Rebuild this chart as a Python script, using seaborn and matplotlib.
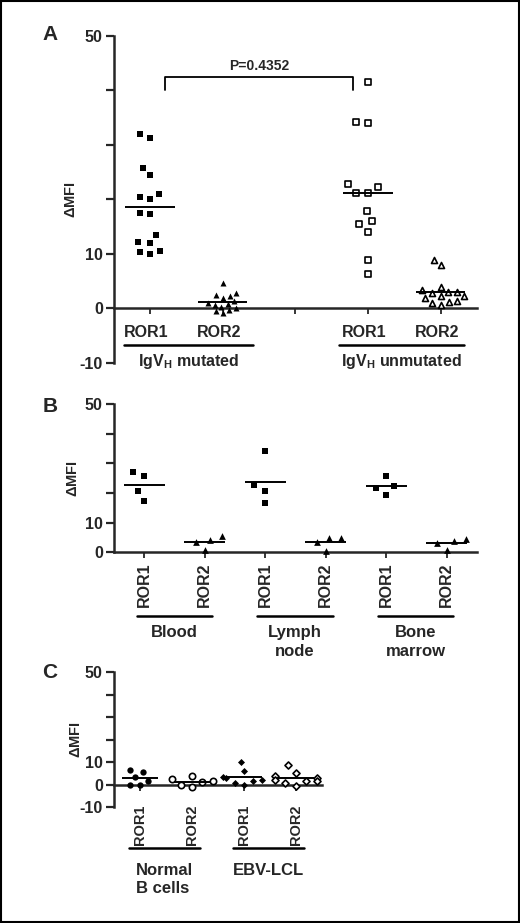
import numpy as np
import pandas as pd
import matplotlib
matplotlib.use("Agg")
import matplotlib.pyplot as plt
import matplotlib.transforms as mtrans
from matplotlib.markers import MarkerStyle
from matplotlib.patches import Rectangle
import seaborn as sns

# panel A: IgVH mutated / unmutated
a_labels = ["ROR1", "ROR2", "ROR1", "ROR2"]
a_mut_ror1 = [31.9, 31.2, 25.7, 24.4, 20.9, 20.5, 20.0, 17.5, 17.3, 13.5, 12.1, 12.0, 10.6, 10.3, 10.0]
a_mut_ror2 = [4.7, 2.9, 2.5, 2.3, 2.0, 1.3, 1.0, 0.9, 0.7, 0.3, 0.0, -0.3, -0.5, -0.9]
a_unm_ror1 = [41.5, 34.2, 34.0, 22.8, 22.2, 21.1, 21.1, 17.9, 16.0, 15.5, 14.0, 8.8, 6.4]
a_unm_ror2 = [8.9, 7.9, 3.9, 3.3, 3.1, 3.0, 2.8, 2.3, 2.2, 1.9, 1.4, 1.1, 1.0, 0.6]
a_groups = [r"IgV$_\mathregular{H}$ mutated", r"IgV$_\mathregular{H}$ unmutated"]
a_pvalue = "P=0.4352"

# panel B: tissue
b_labels = ["ROR1", "ROR2", "ROR1", "ROR2", "ROR1", "ROR2"]
b_blood_ror1 = [27.0, 25.6, 20.7, 17.2]
b_blood_ror2 = [5.6, 4.3, 3.6, 0.7]
b_lymph_ror1 = [34.2, 22.6, 20.7, 16.7]
b_lymph_ror2 = [4.9, 4.7, 3.4, 0.6]
b_bone_ror1 = [25.7, 22.4, 21.8, 19.3]
b_bone_ror2 = [4.5, 3.9, 3.1, 0.7]
b_groups = ["Blood", "Lymph\nnode", "Bone\nmarrow"]

# panel C: normal B cells / EBV-LCL
c_labels = ["ROR1", "ROR2", "ROR1", "ROR2"]
c_normal_ror1 = [6.7, 5.6, 3.4, 1.6, 0.0, -0.1]
c_normal_ror2 = [4.0, 2.5, 1.5, 1.2, -0.3, -0.9]
c_ebv_ror1 = [10.0, 6.2, 3.5, 3.0, 2.3, 1.5, 1.0, 0.0]
c_ebv_ror2 = [8.6, 5.2, 3.7, 3.0, 2.2, 1.5, 1.5, 0.7, -0.7]
c_groups = ["Normal\nB cells", "EBV-LCL"]

sns.set_theme(style="ticks")
plt.rcParams["font.family"] = ["Liberation Sans", "DejaVu Sans"]
plt.rcParams["font.weight"] = "bold"
plt.rcParams["axes.labelweight"] = "bold"
plt.rcParams["mathtext.fontset"] = "custom"
plt.rcParams["mathtext.rm"] = "Liberation Sans:bold"
plt.rcParams["mathtext.bf"] = "Liberation Sans:bold"

fig = plt.figure(figsize=(5.2, 9.23), dpi=100)
axA = fig.add_axes([0.219, 0.6067, 0.698, 0.3546])
axB = fig.add_axes([0.219, 0.4016, 0.698, 0.1607])
axC = fig.add_axes([0.219, 0.1254, 0.40, 0.1462])


def column(ax, pos, vals, marker, filled, size, shrink):
    #swarm laid out with a larger size, markers drawn smaller (looser spacing like prism)
    mk = MarkerStyle(marker, transform=mtrans.Affine2D().scale(shrink))
    x = np.full(len(vals), float(pos))
    if filled:
        sns.swarmplot(x=x, y=vals, native_scale=True, orient="x", ax=ax,
                      marker=mk, color="black", size=size, linewidth=0)
    else:
        sns.swarmplot(x=x, y=vals, native_scale=True, orient="x", ax=ax,
                      marker=mk, color="white", edgecolor="black",
                      linewidth=1.2, size=size)
    ax.hlines(np.mean(vals), pos - 0.34, pos + 0.34, color="black", lw=1.4, zorder=4)


def style_axis(ax, ylim, yticks, ylabels, positions, xlim, labelx):
    ax.set_ylim(*ylim)
    ax.set_xlim(*xlim)
    ax.spines["top"].set_visible(False)
    ax.spines["right"].set_visible(False)
    ax.spines["left"].set_linewidth(1.8)
    ax.spines["bottom"].set_linewidth(1.8)
    ax.spines["bottom"].set_position(("data", 0))
    ax.set_yticks(yticks)
    ax.set_yticklabels(ylabels)
    ax.set_xticks(positions)
    ax.set_xticklabels([""] * len(positions))
    ax.tick_params(axis="y", direction="out", length=6, width=1.6, labelsize=11.5, pad=2)
    ax.tick_params(axis="x", direction="out", length=4, width=1.3)
    ax.set_xlabel("")
    ax.set_ylabel(r"$\Delta$MFI", fontsize=10.5, fontweight="bold")
    ax.yaxis.set_label_coords(labelx, 0.5)
    for coll in ax.collections:
        coll.set_clip_on(False)


# ---- panel A
for pos, vals, m, f, sz, sh in [(1, a_mut_ror1, "s", True, 7.2, 0.62),
                                (2, a_mut_ror2, "^", True, 4.8, 0.9),
                                (4, a_unm_ror1, "s", False, 7.2, 0.62),
                                (5, a_unm_ror2, "^", False, 4.8, 0.9)]:
    column(axA, pos, vals, m, f, sz, sh)
style_axis(axA, (-10, 50), [-10, 0, 10, 20, 30, 40, 50],
           ["-10", "0", "10", "", "", "", "50"], [1, 2, 3, 4, 5], (0.5, 5.5), -0.10)
for pos, lab in zip([1, 2, 4, 5], a_labels):
    axA.text(pos - 0.05, -4.4, lab, ha="center", va="center", fontsize=11.5, fontweight="bold")
for (x0, x1), lab in zip([(0.64, 2.41), (3.6, 5.32)], a_groups):
    axA.plot([x0, x1], [-6.7, -6.7], color="black", lw=1.8, clip_on=False)
    axA.text((x0 + x1) / 2, -9.8, lab, ha="center", va="center", fontsize=11.5, fontweight="bold")
axA.plot([1.2, 1.2, 3.8, 3.8], [40.1, 42.5, 42.5, 40.1], color="black", lw=1.3)
axA.text(2.5, 44.4, a_pvalue, ha="center", va="center", fontsize=10, fontweight="bold")

# ---- panel B
b_sets = [b_blood_ror1, b_blood_ror2, b_lymph_ror1, b_lymph_ror2, b_bone_ror1, b_bone_ror2]
for i, vals in enumerate(b_sets):
    column(axB, i + 1, vals, "s" if i % 2 == 0 else "^", True, 8.5, 0.57)
style_axis(axB, (0, 50), [0, 10, 20, 30, 40, 50],
           ["0", "10", "", "", "", "50"], [1, 2, 3, 4, 5, 6], (0.5, 6.5), -0.094)
trB = mtrans.blended_transform_factory(axB.transData, axB.transAxes)
for pos, lab in zip(range(1, 7), b_labels):
    axB.text(pos, -0.07, lab, rotation=90, ha="center", va="top", fontsize=11.5,
             fontweight="bold", transform=trB)
for (x0, x1), lab in zip([(0.88, 2.12), (2.87, 4.12), (4.87, 6.1)], b_groups):
    axB.plot([x0, x1], [-0.43, -0.43], color="black", lw=1.8, clip_on=False, transform=trB)
    axB.text((x0 + x1) / 2, -0.49, lab, ha="center", va="top", fontsize=12,
             fontweight="bold", linespacing=1.3, transform=trB)

# ---- panel C
c_sets = [(c_normal_ror1, "o", True, 0.7), (c_normal_ror2, "o", False, 0.7),
          (c_ebv_ror1, "D", True, 0.55), (c_ebv_ror2, "D", False, 0.55)]
for i, (vals, m, f, sh) in enumerate(c_sets):
    column(axC, i + 1, vals, m, f, 6.5, sh)
style_axis(axC, (-10, 50), [-10, 0, 10, 20, 30, 40, 50],
           ["-10", "0", "10", "", "", "", "50"], [1, 2, 3, 4], (0.5, 4.5), -0.15)
trC = mtrans.blended_transform_factory(axC.transData, axC.transAxes)
for pos, lab in zip(range(1, 5), c_labels):
    axC.text(pos, 0.02, lab, rotation=90, ha="center", va="top", fontsize=10.5,
             fontweight="bold", transform=trC)
for (x0, x1), lab in zip([(0.8, 2.15), (2.8, 4.15)], c_groups):
    axC.plot([x0, x1], [-0.30, -0.30], color="black", lw=1.8, clip_on=False, transform=trC)
    axC.text((x0 + x1) / 2, -0.41, lab, ha="center", va="top", fontsize=12,
             fontweight="bold", linespacing=1.3, multialignment="left", transform=trC)

# panel letters
for lab, yy in [("A", 35), ("B", 407), ("C", 673)]:
    fig.text(50 / 520, 1 - yy / 923, lab, fontsize=15, fontweight="bold", ha="center", va="center")

# frame round the figure
fig.patches.append(Rectangle((0.002, 0.001), 0.996, 0.998, transform=fig.transFigure,
                             fill=False, ec="black", lw=1.5))

fig.savefig("out.png", dpi=100)
